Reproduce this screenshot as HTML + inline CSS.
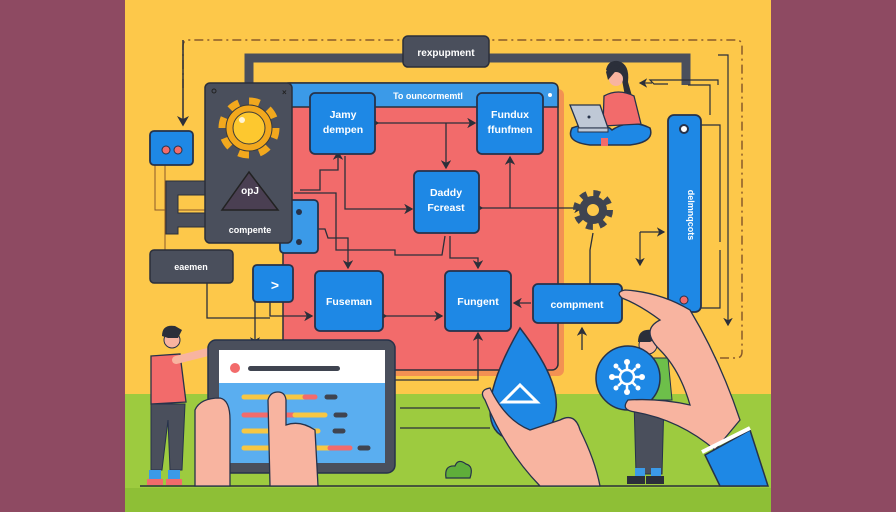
<!DOCTYPE html>
<html><head><meta charset="utf-8"><style>
html,body{margin:0;padding:0;width:896px;height:512px;overflow:hidden;background:#8E4A62}
svg{display:block}
text{font-family:"Liberation Sans",sans-serif;font-weight:bold}
</style></head><body>
<svg width="896" height="512" viewBox="0 0 896 512" xmlns="http://www.w3.org/2000/svg">
<defs>
<marker id="a" markerWidth="8" markerHeight="8" refX="6" refY="4" orient="auto"><path d="M0,0 L7,4 L0,8 L2,4z" fill="#2b2f3a"/></marker>
</defs>
<rect x="125" y="0" width="646" height="512" fill="#FDC84A"/>
<rect x="125" y="394" width="646" height="118" fill="#9DCB3F"/>
<rect x="125" y="488" width="646" height="24" fill="#8EBF36"/>
<line x1="140" y1="486" x2="760" y2="486" stroke="#2b2f3a" stroke-width="1.5"/>
<path d="M183,88 L183,46 Q183,40 189,40 L736,40 Q742,40 742,46 L742,352 Q742,358 736,358 L700,358" fill="none" stroke="#8a5a2a" stroke-width="1.5" stroke-dasharray="9,4,2,4"/>
<path d="M183,40 L183,125" fill="none" stroke="#2b2f3a" stroke-width="1.5" marker-end="url(#a)"/>
<path d="M165,165 L165,270 L205,270 M155,165 L155,210 L205,210" fill="none" stroke="#8a5a2a" stroke-width="1"/>
<path d="M249,85 L249,58 L686,58 L686,85" fill="none" stroke="#4A4F5C" stroke-width="9"/>
<rect x="403" y="36" width="86" height="31" rx="5" fill="#4A4F5C" stroke="#2b2f3a" stroke-width="1.5"/>
<text x="446" y="56" fill="#fff" font-size="10" text-anchor="middle" font-weight="normal">rexpupment</text>
<path d="M688,85 L710,85 L710,115" fill="none" stroke="#2b2f3a" stroke-width="1.2"/>
<path d="M718,55 L728,55 L728,325" fill="none" stroke="#2b2f3a" stroke-width="1.2" marker-end="url(#a)"/>
<path d="M700,125 L720,125 L720,242 M700,308 L720,308 L720,250" fill="none" stroke="#2b2f3a" stroke-width="1.2"/>
<path d="M668,84 L654,84 L650,80 L718,80 L718,85" fill="none" stroke="#2b2f3a" stroke-width="1.2"/>
<path d="M652,83 L640,83" fill="none" stroke="#2b2f3a" stroke-width="1.2" marker-end="url(#a)"/>
<path d="M640,232 L640,265" fill="none" stroke="#2b2f3a" stroke-width="1.2" marker-end="url(#a)"/>
<path d="M640,232 L664,232" fill="none" stroke="#2b2f3a" stroke-width="1.2" marker-end="url(#a)"/>
<rect x="289" y="89" width="275" height="287" rx="6" fill="#E95A5A" opacity="0.5"/>
<rect x="283" y="83" width="275" height="287" rx="6" fill="#F26B6B" stroke="#2b2f3a" stroke-width="1.5"/>
<path d="M289,83 L552,83 Q558,83 558,89 L558,107 L283,107 L283,89 Q283,83 289,83z" fill="#3B9AE8" stroke="#2b2f3a" stroke-width="1.5"/>
<text x="428" y="99" fill="#fff" font-size="9" text-anchor="middle" font-weight="normal">To ouncormemtl</text>
<circle cx="550" cy="95" r="2" fill="#fff"/>
<g fill="none" stroke="#2b2f3a" stroke-width="1.3">
<path d="M378,123 L475,123" marker-end="url(#a)" marker-start="url(#a)"/>
<path d="M446,123 L446,168" marker-end="url(#a)"/>
<path d="M345,156 L345,209 L412,209" marker-end="url(#a)"/>
<path d="M482,208 L582,208" marker-end="url(#a)" marker-start="url(#a)"/>
<path d="M510,208 L510,157" marker-end="url(#a)"/>
<path d="M294,193 L336,193 L336,250 L395,250 L395,255 L442,255 L445,236"/>
<path d="M450,236 L450,258 L478,258 L478,268" marker-end="url(#a)"/>
<path d="M268,229 L325,229 L328,238 L348,238 L348,268" marker-end="url(#a)"/>
<path d="M386,316 L442,316" marker-end="url(#a)" marker-start="url(#a)"/>
<path d="M270,285 L270,316 L312,316" marker-end="url(#a)"/>
<path d="M531,303 L514,303" marker-end="url(#a)"/>
<path d="M590,284 L590,250 L593,233"/>
<path d="M582,350 L582,328" marker-end="url(#a)"/>
<path d="M478,360 L478,333" marker-end="url(#a)"/>
<path d="M255,300 L255,345" marker-end="url(#a)"/>
<path d="M207,283 L207,318 L270,318"/>
<path d="M400,408 L480,408 M400,428 L490,428 M390,380 L478,380 L478,360"/>
<path d="M300,190 L320,190 L320,170 L338,170 L338,152" marker-end="url(#a)"/>
</g>
<g stroke="#26324A" stroke-width="1.8">
<rect x="310" y="93" width="65" height="61" rx="5" fill="#1E88E5"/>
<rect x="477" y="93" width="66" height="61" rx="5" fill="#1E88E5"/>
<rect x="414" y="171" width="65" height="62" rx="5" fill="#1E88E5"/>
<rect x="315" y="271" width="68" height="60" rx="5" fill="#1E88E5"/>
<rect x="445" y="271" width="66" height="60" rx="5" fill="#1E88E5"/>
<rect x="533" y="284" width="89" height="39" rx="5" fill="#1E88E5"/>
<rect x="150" y="131" width="43" height="34" rx="4" fill="#1E88E5"/>
<rect x="253" y="265" width="40" height="37" rx="4" fill="#1E88E5"/>
<rect x="280" y="200" width="38" height="53" rx="4" fill="#3B9AE8"/>
<rect x="668" y="115" width="33" height="197" rx="6" fill="#1E88E5"/>
</g>
<g fill="#fff" font-size="10.5" text-anchor="middle" font-weight="normal">
<text x="343" y="118">Jamy</text><text x="343" y="133">dempen</text>
<text x="510" y="118">Fundux</text><text x="510" y="133">ffunfmen</text>
<text x="446" y="196">Daddy</text><text x="446" y="211">Fcreast</text>
<text x="349" y="305">Fuseman</text>
<text x="478" y="305">Fungent</text>
<text x="577" y="308">compment</text>
<text x="275" y="290" font-size="14" font-weight="bold">&gt;</text>
<text transform="translate(688,215) rotate(90)" font-size="9">delmnqcots</text>
</g>
<circle cx="166" cy="150" r="4" fill="#F26B6B" stroke="#26324A"/><circle cx="178" cy="150" r="4" fill="#F26B6B" stroke="#26324A"/>
<circle cx="684" cy="129" r="4" fill="#fff" stroke="#26324A" stroke-width="2"/>
<circle cx="684" cy="300" r="4" fill="#F26B6B" stroke="#26324A"/>
<circle cx="299" cy="212" r="3" fill="#26324A"/><circle cx="299" cy="242" r="3" fill="#26324A"/>
<path d="M166,181 L207,181 L207,195 L178,195 L178,213 L207,213 L207,227 L178,227 L178,234 L166,234z" fill="#4A4F5C" stroke="#2b2f3a"/>
<rect x="205" y="83" width="87" height="160" rx="5" fill="#4A4F5C" stroke="#2b2f3a" stroke-width="1.5"/>
<circle cx="214" cy="91" r="2" fill="none" stroke="#222"/>
<text x="282" y="95" fill="#222" font-size="8">×</text>
<circle cx="249" cy="128" r="26" fill="none" stroke="#F2A81D" stroke-width="9" stroke-dasharray="10.2,10.2"/>
<circle cx="249" cy="128" r="23" fill="#F2A81D" stroke="#3a3a3a" stroke-width="1"/>
<circle cx="249" cy="128" r="16" fill="#FDC82F" stroke="#3a3a3a" stroke-width="1"/>
<circle cx="242" cy="120" r="3" fill="#fff" opacity="0.8"/>
<path d="M249,172 L278,210 L222,210z" fill="#4A3F52" stroke="#222" stroke-width="1.5"/>
<text x="250" y="194" fill="#fff" font-size="10" text-anchor="middle" font-weight="normal">opJ</text>
<text x="250" y="233" fill="#fff" font-size="9" text-anchor="middle" font-weight="normal">compente</text>
<rect x="150" y="250" width="83" height="33" rx="4" fill="#4A4F5C" stroke="#2b2f3a" stroke-width="1.5"/>
<text x="191" y="270" fill="#fff" font-size="9" text-anchor="middle" font-weight="normal">eaemen</text>
<circle cx="593" cy="210" r="16" fill="none" stroke="#3F4450" stroke-width="8" stroke-dasharray="6.3,6.3"/>
<circle cx="593" cy="210" r="10" fill="none" stroke="#3F4450" stroke-width="8"/>
<!-- laptop person -->
<path d="M572,128 Q600,118 612,130 Q630,118 650,128 Q655,142 630,145 L590,145 Q565,142 572,128z" fill="#1E88E5" stroke="#26324A" stroke-width="1.5"/>
<rect x="601" y="138" width="7" height="8" fill="#F26B6B"/>
<path d="M606,70 Q608,60 618,61 Q630,64 628,82 L632,96 L625,96 L622,80z" fill="#2b2f3a"/>
<circle cx="616" cy="79" r="7" fill="#F8B4A0"/>
<path d="M606,72 Q610,64 620,66 L608,80z" fill="#2b2f3a"/>
<path d="M604,96 Q618,88 634,96 L641,124 L603,126z" fill="#F26B6B" stroke="#26324A" stroke-width="1.3"/>
<path d="M570,105 L600,105 L608,128 L579,128z" fill="#BFC8D6" stroke="#26324A" stroke-width="1.3"/>
<rect x="578" y="128" width="30" height="4" fill="#BFC8D6" stroke="#26324A"/>
<circle cx="589" cy="117" r="1.5" fill="#26324A"/>
<!-- left person -->
<circle cx="172" cy="340" r="8" fill="#F8B4A0" stroke="#26324A"/>
<path d="M162,336 Q162,324 175,326 L182,330 L178,338 L168,338z" fill="#2b2f3a"/>
<path d="M151,356 L180,354 L186,402 L151,404z" fill="#F26B6B" stroke="#26324A" stroke-width="1.3"/>
<path d="M176,360 L208,352" stroke="#F8B4A0" stroke-width="8" stroke-linecap="round"/>
<path d="M151,404 L185,404 L182,470 L170,470 L168,420 L162,470 L151,470z" fill="#4A4F5C" stroke="#26324A"/>
<rect x="149" y="470" width="12" height="9" fill="#3B9AE8"/><rect x="168" y="470" width="12" height="9" fill="#3B9AE8"/>
<rect x="147" y="479" width="16" height="6" fill="#F26B6B"/><rect x="166" y="479" width="16" height="6" fill="#F26B6B"/>
<!-- tablet -->
<rect x="208" y="340" width="187" height="133" rx="8" fill="#4A4F5C" stroke="#26324A" stroke-width="1.5"/>
<rect x="219" y="350" width="166" height="113" fill="#5AAEF0"/>
<rect x="219" y="350" width="166" height="33" fill="#fff"/>
<circle cx="235" cy="368" r="5" fill="#F26B6B"/>
<rect x="248" y="366" width="92" height="5" rx="2.5" fill="#3F4450"/>
<g stroke-width="5" stroke-linecap="round">
<line x1="244" y1="397" x2="305" y2="397" stroke="#F7C744"/><line x1="305" y1="397" x2="315" y2="397" stroke="#F26B6B"/><line x1="327" y1="397" x2="335" y2="397" stroke="#3F4450"/>
<line x1="244" y1="415" x2="295" y2="415" stroke="#F26B6B"/><line x1="295" y1="415" x2="325" y2="415" stroke="#F7C744"/><line x1="336" y1="415" x2="345" y2="415" stroke="#3F4450"/>
<line x1="244" y1="431" x2="318" y2="431" stroke="#F7C744"/><line x1="335" y1="431" x2="343" y2="431" stroke="#3F4450"/>
<line x1="244" y1="448" x2="330" y2="448" stroke="#F7C744"/><line x1="330" y1="448" x2="350" y2="448" stroke="#F26B6B"/><line x1="360" y1="448" x2="368" y2="448" stroke="#3F4450"/>
</g>
<path d="M195,486 L195,410 Q200,398 220,398 Q230,400 230,420 L230,486z" fill="#F8B4A0" stroke="#26324A" stroke-width="1.3"/>
<path d="M270,486 L268,400 Q270,392 278,392 Q285,392 286,400 L286,425 Q300,420 315,430 L318,486z" fill="#F8B4A0" stroke="#26324A" stroke-width="1.3"/>
<path d="M446,478 Q444,465 455,466 Q458,458 466,464 Q474,466 470,478z" fill="#5FAE3A" stroke="#26324A" stroke-width="1.2"/>
<!-- green person right -->
<circle cx="648" cy="345" r="9" fill="#F8B4A0" stroke="#26324A"/>
<path d="M638,342 Q638,328 652,330 L658,338 L650,342z" fill="#2b2f3a"/>
<path d="M632,358 L668,358 L672,400 L630,400z" fill="#6DBF4A" stroke="#26324A"/>
<path d="M634,400 L664,400 L662,474 L636,474z" fill="#4A4F5C" stroke="#26324A"/>
<rect x="635" y="468" width="10" height="8" fill="#3B9AE8"/><rect x="651" y="468" width="10" height="8" fill="#3B9AE8"/>
<rect x="627" y="476" width="18" height="8" fill="#2b2f3a"/><rect x="646" y="476" width="18" height="8" fill="#2b2f3a"/>
<!-- drop + hand -->
<path d="M520,328 Q560,380 556,410 Q552,440 520,440 Q490,440 490,410 Q490,380 520,328z" fill="#1E88E5" stroke="#26324A" stroke-width="1.5"/>
<path d="M520,385 L537,402 L503,402z" fill="none" stroke="#fff" stroke-width="3"/>
<path d="M485,400 Q478,390 490,388 Q505,420 530,430 L560,420 Q575,412 580,430 Q595,460 600,486 L540,486 Q505,450 485,400z" fill="#F8B4A0" stroke="#26324A" stroke-width="1.3"/>
<!-- blue circle + hand -->
<circle cx="628" cy="378" r="32" fill="#1E88E5" stroke="#26324A" stroke-width="1.5"/>
<g stroke="#fff" stroke-width="2.5" fill="none"><circle cx="627" cy="377" r="7"/><path d="M627,370 L627,364 M627,384 L627,390 M620,377 L614,377 M634,377 L640,377 M622,372 L618,368 M632,382 L636,386 M622,382 L618,386 M632,372 L636,368"/></g>
<g fill="#fff"><circle cx="627" cy="362" r="3"/><circle cx="627" cy="392" r="3"/><circle cx="612" cy="377" r="3"/><circle cx="642" cy="377" r="3"/><circle cx="616" cy="366" r="2.5"/><circle cx="638" cy="388" r="2.5"/><circle cx="616" cy="388" r="2.5"/><circle cx="638" cy="366" r="2.5"/></g>
<path d="M622,298 Q615,292 625,290 Q660,292 690,310 Q720,360 740,420 L715,450 Q680,420 635,412 Q620,410 628,400 Q660,398 690,405 Q680,370 660,350 Q640,330 660,320 Q640,305 622,298z" fill="#F8B4A0" stroke="#26324A" stroke-width="1.3"/>
<path d="M705,455 L750,430 L768,486 L720,486z" fill="#1E88E5" stroke="#26324A" stroke-width="1.5"/>
<path d="M702,452 L750,428" stroke="#fff" stroke-width="4"/>
</svg>
</body></html>
